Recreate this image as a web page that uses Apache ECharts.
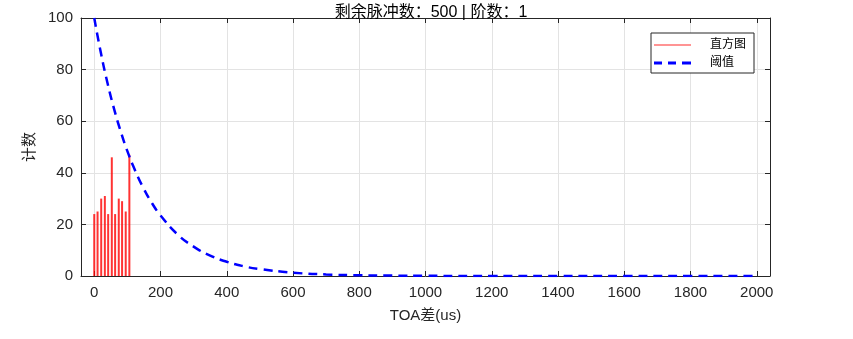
<!DOCTYPE html>
<html>
<head>
<meta charset="utf-8">
<script src="https://cdn.jsdelivr.net/npm/echarts@6/dist/echarts.min.js"></script>
<style>
  html, body { margin: 0; padding: 0; background: #fff; }
  #chart { width: 853px; height: 339px; }
</style>
</head>
<body>
<div id="chart"></div>
<script>
// histogram bins (TOA diff, us) and counts
var histX = [0, 10, 21, 32, 42, 53, 63, 74, 84, 95, 106];
var histY = [24, 25, 30, 31, 24, 46, 24, 30, 29, 25, 47];
// threshold curve
var thrX = [0, 20, 40, 60, 80, 100, 125, 150, 175, 200, 250, 300, 350, 400, 450, 500, 600, 700, 800, 900, 1000, 1200, 1400, 1600, 1800, 2000];
var thrY = [100, 86.5, 74.8, 64.7, 56, 48.4, 40.4, 33.7, 28.1, 23.5, 16.3, 11.4, 7.9, 5.5, 3.8, 2.7, 1.3, 0.6, 0.3, 0.15, 0.07, 0.02, 0, 0, 0, 0];
var xTicks = [0, 200, 400, 600, 800, 1000, 1200, 1400, 1600, 1800, 2000];
var titleText = '剩余脉冲数：500 | 阶数：1';
var legendNames = ['直方图', '阈值'];

var font = '"Liberation Sans", "Noto Sans CJK SC", sans-serif';
var axisColor = '#262626';
var gridColor = '#e3e3e3';

var chart = echarts.init(document.getElementById('chart'));

var histData = histX.map(function (x, i) { return [x, histY[i]]; });
var thrData = thrX.map(function (x, i) { return [x, thrY[i]]; });

var option = {
    animation: false,
    backgroundColor: '#fff',
    textStyle: { fontFamily: font },
    title: {
        text: titleText,
        left: 426,
        textAlign: 'center',
        top: 0,
        textStyle: { fontSize: 16, fontWeight: 'normal', color: '#000', fontFamily: font }
    },
    grid: { left: 81, right: 83, top: 18, bottom: 63 },
    legend: {
        orient: 'vertical',
        left: 651,
        top: 33,
        width: 108,
        padding: [6, 8, 4, 3],
        itemGap: 6,
        itemWidth: 37,
        itemHeight: 8,
        borderColor: axisColor,
        borderWidth: 1,
        backgroundColor: '#fff',
        textStyle: { fontSize: 12, color: '#000', fontFamily: font, padding: [0, 0, 0, 14] },
        data: [
            { name: legendNames[0], icon: 'path://M0,0 L37,0 L37,1.6 L0,1.6 Z', itemStyle: { color: '#ff7070' } },
            { name: legendNames[1], icon: 'path://M0,0h8v3h-8z M14,0h8v3h-8z M28,0h9v3h-9z', itemStyle: { color: '#0000ff' } }
        ]
    },
    xAxis: [{
        type: 'value',
        min: -40,
        max: 2040,
        name: 'TOA差(us)',
        nameLocation: 'middle',
        nameGap: 32,
        nameTextStyle: { fontSize: 15, color: axisColor, fontFamily: font },
        axisLine: { show: true, onZero: false, lineStyle: { color: axisColor, width: 1 } },
        axisTick: { show: true, inside: true, length: 5, customValues: xTicks, lineStyle: { color: axisColor } },
        axisLabel: {
            customValues: xTicks, fontSize: 15, color: axisColor, margin: 9, fontFamily: font,
            formatter: function (v) { return String(v); }
        },
        splitLine: { show: true, lineStyle: { color: gridColor } }
    }, {
        type: 'value',
        position: 'top',
        min: -40,
        max: 2040,
        axisLine: { show: true, onZero: false, lineStyle: { color: axisColor, width: 1 } },
        axisTick: { show: true, inside: true, length: 5, customValues: xTicks, lineStyle: { color: axisColor } },
        axisLabel: { show: false },
        splitLine: { show: false }
    }],
    yAxis: [{
        type: 'value',
        min: 0,
        max: 100,
        interval: 20,
        name: '计数',
        nameLocation: 'middle',
        nameGap: 37,
        nameTextStyle: { fontSize: 15, color: axisColor, fontFamily: font },
        axisLine: { show: true, onZero: false, lineStyle: { color: axisColor, width: 1 } },
        axisTick: { show: true, inside: true, length: 5, lineStyle: { color: axisColor } },
        axisLabel: { fontSize: 15, color: axisColor, margin: 8, fontFamily: font },
        splitLine: { show: true, lineStyle: { color: gridColor } }
    }, {
        type: 'value',
        position: 'right',
        min: 0,
        max: 100,
        interval: 20,
        axisLine: { show: true, onZero: false, lineStyle: { color: axisColor, width: 1 } },
        axisTick: { show: true, inside: true, length: 5, lineStyle: { color: axisColor } },
        axisLabel: { show: false },
        splitLine: { show: false }
    }],
    series: [{
        name: legendNames[0],
        type: 'bar',
        barWidth: 2,
        itemStyle: { color: 'rgba(255,0,0,0.8)' },
        data: histData,
        z: 2
    }, {
        name: legendNames[1],
        type: 'line',
        smooth: true,
        symbol: 'none',
        lineStyle: { color: '#0000ff', width: 2.5, type: [9, 6] },
        data: thrData,
        z: 3
    }]
};

chart.setOption(option);
</script>
</body>
</html>
